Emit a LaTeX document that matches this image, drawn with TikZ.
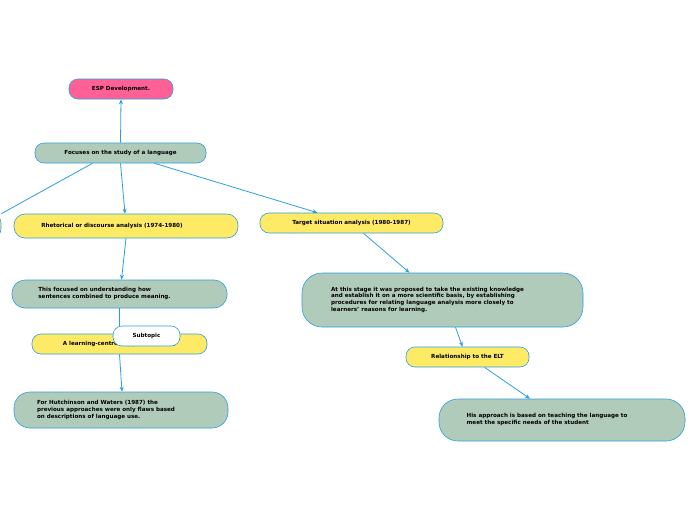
\documentclass[tikz,border=0pt]{standalone}
\usepackage{fontspec}
\setmainfont{DejaVu Sans}
\usetikzlibrary{arrows.meta}
\definecolor{edge}{HTML}{2A9FE0}
\definecolor{pinkc}{HTML}{FF6095}
\definecolor{sage}{HTML}{B1CBBB}
\definecolor{yel}{HTML}{FFEA66}
\tikzset{
 box/.style={draw=edge,line width=0.6pt,rounded corners=9pt,font=\bfseries\fontsize{5.6}{6.8}\selectfont,inner sep=0pt,align=left},
 con/.style={draw=edge,line width=0.8pt,-{Stealth[length=5pt,width=4pt]}},
 plain/.style={draw=edge,line width=0.8pt}
}
\begin{document}
\begin{tikzpicture}[x=1pt,y=-1pt]
\useasboundingbox (0,0) rectangle (697,520);
\clip (0,0) rectangle (697,520);
\node[box,fill=pinkc,minimum width=104pt,minimum height=20pt] (esp) at (121,89) {ESP Development.};
\node[box,fill=sage,minimum width=171pt,minimum height=20pt] (foc) at (120.5,153) {Focuses on the study of a language};
\node[box,fill=yel,minimum width=224pt,minimum height=24pt,rounded corners=11pt] (rhe) at (126,226) {\hspace*{-28pt}Rhetorical or discourse analysis (1974-1980)};
\node[box,fill=yel,minimum width=124pt,minimum height=24pt] (off) at (-61,226) {};
\node[box,fill=yel,minimum width=183pt,minimum height=20pt] (tar) at (351.5,223) {Target situation analysis (1980-1987)};
\node[box,fill=sage,minimum width=215pt,minimum height=28pt,rounded corners=13pt] (thi) at (119.5,294) {\hspace*{-30pt}\begin{tabular}{@{}l@{}}This focused on understanding how\\sentences combined to produce meaning.\end{tabular}};
\node[box,fill=yel,minimum width=175pt,minimum height=20pt] (lea) at (119.5,344) {A learning-centred approach (1987)};
\node[box,fill=sage,minimum width=214pt,minimum height=36pt,rounded corners=16pt] (hut) at (121,410) {\hspace*{-30pt}\begin{tabular}{@{}l@{}}For Hutchinson and Waters (1987) the\\previous approaches were only flaws based\\on descriptions of language use.\end{tabular}};
\node[box,fill=sage,minimum width=281pt,minimum height=54pt,rounded corners=20pt] (ats) at (442.5,300) {\hspace*{-30pt}\begin{tabular}{@{}l@{}}At this stage it was proposed to take the existing knowledge\\and establish it on a more scientific basis, by establishing\\procedures for relating language analysis more closely to\\learners' reasons for learning.\end{tabular}};
\node[box,fill=yel,minimum width=123pt,minimum height=20pt] (rel) at (467.5,357) {Relationship to the ELT};
\node[box,fill=sage,minimum width=246pt,minimum height=42pt,rounded corners=19pt] (his) at (562,420) {\hspace*{-30pt}\begin{tabular}{@{}l@{}}His approach is based on teaching the language to\\meet the specific needs of the student\end{tabular}};
\draw[con] (foc.north) -- (esp.south);
\draw[con] (foc.south) -- ([xshift=-1pt]rhe.north);
\draw[plain] ([xshift=-28pt]foc.south) -- (off.north east);
\draw[con] ([xshift=34pt]foc.south) -- ([xshift=-34pt]tar.north);
\draw[con] (rhe.south) -- ([xshift=2pt]thi.north);
\draw[plain] (thi.south) -- (lea.north);
\draw[con] (lea.south) -- ([xshift=1pt]hut.north);
\draw[con] ([xshift=12pt]tar.south) -- ([xshift=-33pt]ats.north);
\draw[con] ([xshift=13pt]ats.south) -- ([xshift=-5pt]rel.north);
\draw[con] ([xshift=17pt]rel.south) -- ([xshift=-32pt]his.north);
\node[box,fill=white,minimum width=67pt,minimum height=20pt] (sub) at (146.5,336) {Subtopic};
\end{tikzpicture}
\end{document}
